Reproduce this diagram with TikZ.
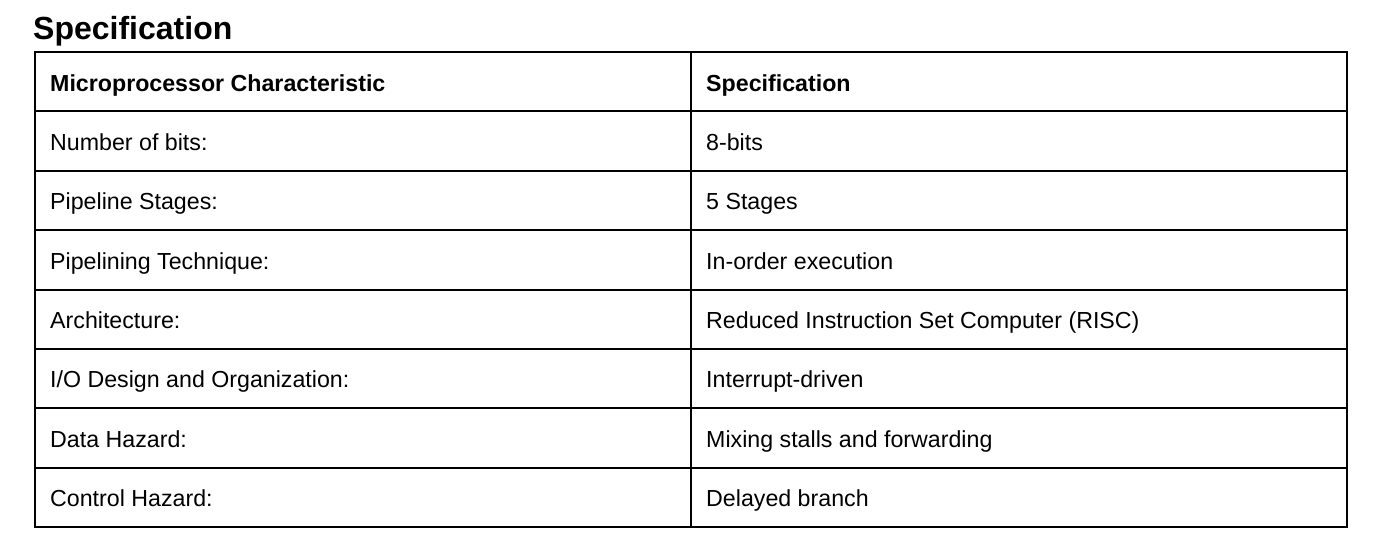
\documentclass[tikz,border=0pt]{standalone}
\usepackage{fontspec}
\setmainfont{Liberation Sans}
\usetikzlibrary{calc}
\tikzset{>=latex}
\tikzset{cell/.style={anchor=base west, inner sep=0pt, font=\fontsize{23.2}{28}\selectfont},
  headcell/.style={cell, font=\fontsize{23.2}{28}\selectfont\bfseries},
  rule/.style={line width=2pt}}

\begin{document}
\begin{tikzpicture}[x=1pt,y=-1pt]
\useasboundingbox (0,0) rectangle (1383,550);
\node[anchor=base west, inner sep=0pt, font=\fontsize{32}{38}\selectfont\bfseries] (title) at (33,39) {Specification};

% table frame and rules
\draw[rule] (35,52) rectangle (1347,527);
\foreach \i in {1,...,7}
  \draw[rule] (35,{52+59.375*\i}) -- (1347,{52+59.375*\i});
\draw[rule] (691,52) -- (691,527);

% left column
\node[headcell] (char) at (50,91) {Microprocessor Characteristic};
\node[cell] (bits) at (50,150.4) {Number of bits:};
\node[cell] (stages) at (50,209.8) {Pipeline Stages:};
\node[cell] (tech) at (50,269.1) {Pipelining Technique:};
\node[cell] (arch) at (50,328.5) {Architecture:};
\node[cell] (io) at (50,387.9) {I/O Design and Organization:};
\node[cell] (data) at (50,447.3) {Data Hazard:};
\node[cell] (ctrl) at (50,506.6) {Control Hazard:};

% right column
\node[headcell] (spec) at (706,91) {Specification};
\node[cell] (bitsval) at (706,150.4) {8-bits};
\node[cell] (stagesval) at (706,209.8) {5 Stages};
\node[cell] (techval) at (706,269.1) {In-order execution};
\node[cell] (archval) at (706,328.5) {Reduced Instruction Set Computer (RISC)};
\node[cell] (ioval) at (706,387.9) {Interrupt-driven};
\node[cell] (dataval) at (706,447.3) {Mixing stalls and forwarding};
\node[cell] (ctrlval) at (706,506.6) {Delayed branch};
\end{tikzpicture}
\end{document}
